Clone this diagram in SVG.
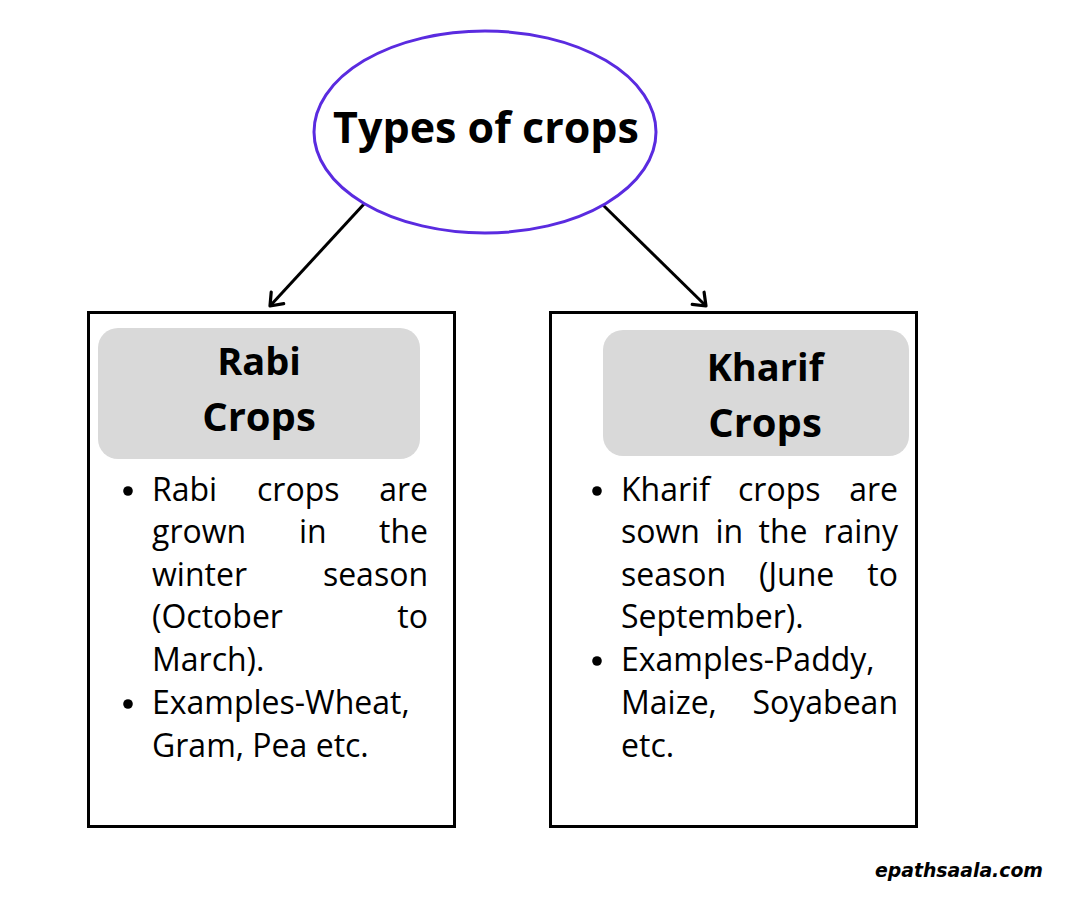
<svg xmlns="http://www.w3.org/2000/svg" width="1090" height="920" viewBox="0 0 1090 920">
<defs>
<style>
.t{font-family:"Open Sans","Noto Sans","Liberation Sans",sans-serif;font-size:32px;fill:#000}
.h{font-family:"Open Sans","Noto Sans","Liberation Sans",sans-serif;font-weight:700;fill:#000;text-anchor:middle}
.e{text-anchor:end}
.box{fill:#fff;stroke:#000;stroke-width:3}
.hdr{fill:#d9d9d9}
.conn{stroke:#000;stroke-width:3;fill:none}
</style>
<marker id="arr" markerUnits="userSpaceOnUse" markerWidth="26" markerHeight="26" viewBox="-13 -13 26 26" refX="0" refY="0" orient="auto">
<path d="M-11,-8.5 L0,0 L-11,8.5" fill="none" stroke="#000" stroke-width="3.2" stroke-linecap="round" stroke-linejoin="round"/>
</marker>
</defs>
<rect width="1090" height="920" fill="#fff"/>
<g id="connectors">
<line class="conn" x1="364" y1="204" x2="270" y2="306" marker-end="url(#arr)"/>
<line class="conn" x1="603" y1="205" x2="706" y2="306" marker-end="url(#arr)"/>
</g>
<g id="root">
<ellipse cx="485" cy="132" rx="171" ry="101" fill="#fff" stroke="#5a2be0" stroke-width="3"/>
<text class="h" x="486" y="143" font-size="43">Types of crops</text>
</g>
<g id="rabi">
<rect class="box" x="88.5" y="312.5" width="366" height="514"/>
<rect class="hdr" x="98" y="328" width="322" height="131" rx="20"/>
<text class="h" x="259" y="375" font-size="38">Rabi</text>
<text class="h" x="259" y="431" font-size="40">Crops</text>
<circle cx="128" cy="491" r="4.8"/>
<circle cx="128" cy="704" r="4.8"/>
<text class="t" x="152" y="501">Rabi</text>
<text class="t" x="257" y="501">crops</text>
<text class="t e" x="428" y="501">are</text>
<text class="t" x="152" y="543">grown</text>
<text class="t" x="299" y="543">in</text>
<text class="t e" x="428" y="543">the</text>
<text class="t" x="152" y="586">winter</text>
<text class="t e" x="428" y="586">season</text>
<text class="t" x="152" y="628">(October</text>
<text class="t e" x="428" y="628">to</text>
<text class="t" x="152" y="671">March).</text>
<text class="t" x="152" y="714">Examples-Wheat,</text>
<text class="t" x="152" y="757">Gram, Pea etc.</text>
</g>
<g id="kharif">
<rect class="box" x="550.5" y="312.5" width="366" height="514"/>
<rect class="hdr" x="603" y="330" width="306" height="126" rx="20"/>
<text class="h" x="765" y="381" font-size="38">Kharif</text>
<text class="h" x="765" y="437" font-size="40">Crops</text>
<circle cx="597" cy="491" r="4.8"/>
<circle cx="597" cy="661" r="4.8"/>
<text class="t" x="621" y="501">Kharif</text>
<text class="t" x="738" y="501">crops</text>
<text class="t e" x="898" y="501">are</text>
<text class="t" x="621" y="543">sown</text>
<text class="t" x="715.5" y="543">in</text>
<text class="t" x="758.5" y="543">the</text>
<text class="t e" x="898" y="543">rainy</text>
<text class="t" x="621" y="586">season</text>
<text class="t" x="759" y="586">(June</text>
<text class="t e" x="898" y="586">to</text>
<text class="t" x="621" y="628">September).</text>
<text class="t" x="621" y="671">Examples-Paddy,</text>
<text class="t" x="621" y="714">Maize,</text>
<text class="t e" x="898" y="714">Soyabean</text>
<text class="t" x="621" y="757">etc.</text>
</g>
<g id="watermark">
<text x="875" y="877" font-family="DejaVu Sans, sans-serif" font-weight="700" font-style="italic" font-size="19" textLength="168" lengthAdjust="spacingAndGlyphs">epathsaala.com</text>
</g>
</svg>
